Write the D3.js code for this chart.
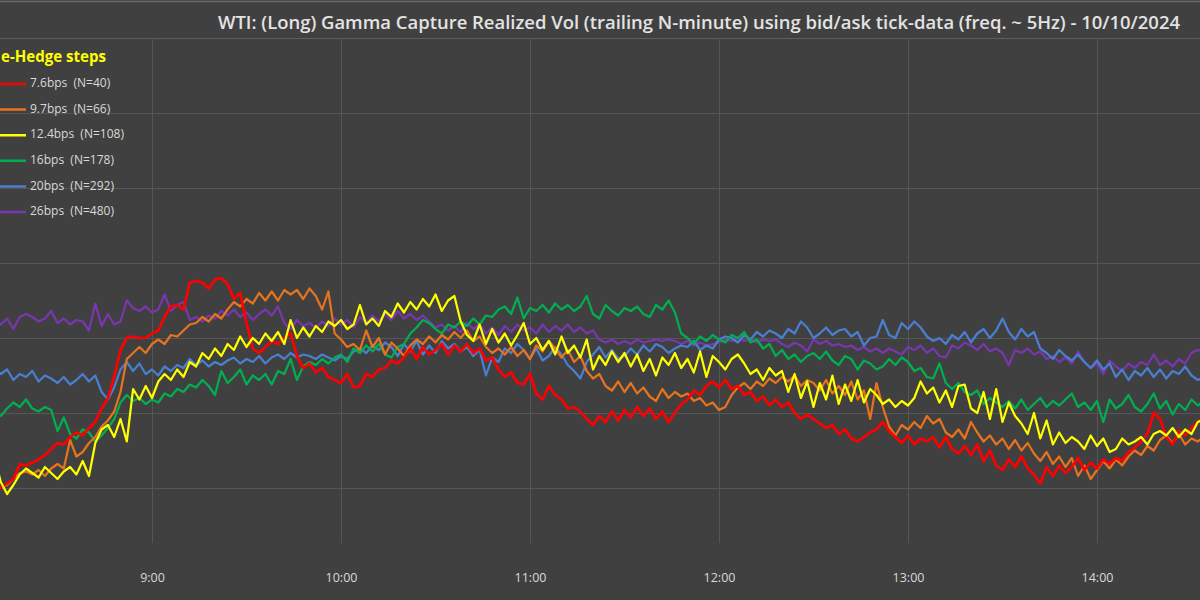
<!DOCTYPE html>
<html>
<head>
<meta charset="utf-8">
<script src="https://cdn.jsdelivr.net/npm/d3@7"></script>
<style>
  html, body { margin: 0; padding: 0; background: #404040; }
  svg { display: block; }
  text { font-family: "Open Sans", "Noto Sans", sans-serif; }
</style>
</head>
<body>
<svg id="chart" width="1200" height="600"></svg>
<script>
//sampling grid: one point every 2 minutes starting 08:10
const startTime = new Date(2024, 9, 10, 8, 10);
const stepMinutes = 2;

const tickLabels = ["9:00", "10:00", "11:00", "12:00", "13:00", "14:00"];

const seriesNames = ["7.6bps  (N=40)", "9.7bps  (N=66)", "12.4bps  (N=108)", "16bps  (N=178)", "20bps  (N=292)", "26bps  (N=480)"];

//realized vol per series
const red = [
  5.1, 5.0, 5.3, 5.6, 6.6, 6.5, 6.7, 6.9, 7.2, 7.6,
  8.0, 7.9, 8.4, 8.7, 8.5, 9.0, 9.4, 10.3, 11.0, 12.4,
  14.2, 15.0, 15.1, 15.0, 15.0, 15.3, 15.5, 16.4, 17.1, 17.2,
  16.9, 18.7, 18.8, 18.7, 18.3, 18.9, 19.0, 18.6, 17.6, 18.0,
  16.0, 14.3, 14.0, 14.4, 14.8, 14.6, 15.0, 15.3, 13.8, 13.0,
  13.3, 12.7, 13.0, 12.4, 12.2, 12.0, 12.6, 11.7, 11.8, 12.6,
  12.4, 12.9, 13.0, 13.5, 13.3, 13.7, 14.3, 13.6, 14.4, 13.9,
  14.2, 14.6, 13.9, 14.5, 14.1, 14.6, 14.0, 14.3, 13.5, 13.7,
  12.9, 12.4, 12.7, 12.0, 11.9, 12.6, 11.3, 10.9, 11.8, 11.2,
  10.9, 10.3, 10.4, 10.1, 9.6, 9.2, 9.8, 9.4, 10.1, 9.5,
  10.2, 9.7, 10.4, 9.8, 10.3, 9.6, 10.1, 9.4, 10.0, 10.6,
  10.9, 11.5, 11.2, 11.8, 12.1, 11.7, 12.2, 11.6, 11.8, 11.2,
  11.4, 10.8, 11.1, 10.5, 10.9, 10.4, 10.7, 10.0, 9.6, 9.9,
  9.6, 9.3, 9.0, 9.2, 8.6, 8.9, 8.3, 8.1, 8.4, 8.7,
  8.9, 9.4, 8.8, 8.4, 8.0, 8.5, 7.9, 8.3, 8.1, 8.4,
  7.7, 8.4, 7.6, 7.3, 7.8, 7.2, 7.9, 6.8, 7.5, 6.5,
  6.2, 6.9, 6.4, 7.1, 6.3, 5.9, 5.3, 6.4, 5.8, 6.5,
  6.0, 6.4, 7.0, 6.2, 6.7, 6.3, 6.9, 6.6, 7.0, 6.8,
  7.4, 7.7, 8.1, 8.6, 10.0, 9.6, 8.4, 7.9, 8.8, 8.5,
  9.0, 9.4, 9.6
];
const orange = [
  5.1, 5.0, 5.2, 5.6, 6.0, 6.1, 5.9, 6.2, 5.8, 6.3,
  6.6, 6.3, 8.2, 7.1, 7.4, 8.0, 8.4, 9.1, 9.5, 10.1,
  11.4, 13.6, 14.0, 14.4, 14.0, 14.6, 14.9, 14.6, 15.2, 15.1,
  15.5, 15.9, 16.0, 16.4, 16.1, 16.6, 16.3, 16.9, 17.4, 17.1,
  17.6, 17.3, 18.0, 17.5, 18.1, 17.5, 18.2, 17.9, 18.2, 17.6,
  18.3, 17.8, 16.9, 18.1, 15.3, 14.9, 14.4, 14.6, 14.2, 15.5,
  14.4, 15.0, 13.9, 14.7, 14.3, 13.8, 14.5, 14.9, 14.6, 15.1,
  14.7, 15.2, 14.9, 15.4, 15.0, 15.5, 14.8, 15.1, 14.4, 14.0,
  14.3, 13.9, 14.4, 13.8, 14.2, 13.6, 14.5, 14.1, 14.8, 14.3,
  13.7, 14.2, 13.4, 13.8, 12.8, 12.3, 12.6, 11.8, 11.5, 12.1,
  11.4, 12.0, 11.3, 11.7, 11.1, 10.8, 11.6, 11.0, 11.4, 11.1,
  11.3, 10.8, 11.0, 10.5, 10.7, 10.2, 10.4, 11.2, 11.7, 12.0,
  11.6, 12.1, 11.8, 12.3, 12.0, 12.4, 12.1, 12.5, 11.8, 12.2,
  12.0, 11.5, 12.2, 11.3, 11.8, 11.2, 12.1, 10.9, 11.5, 9.6,
  12.0, 10.4, 9.1, 8.5, 9.2, 8.9, 9.4, 9.0, 9.8, 9.3,
  9.6, 8.7, 8.4, 8.9, 8.3, 9.4, 8.7, 8.1, 8.5, 7.9,
  8.3, 7.6, 8.2, 7.5, 8.0, 7.3, 6.8, 7.4, 6.6, 7.1,
  6.4, 7.0, 5.8, 6.5, 5.6, 6.2, 6.8, 6.3, 6.9, 6.5,
  7.1, 7.5, 7.2, 7.8, 7.5, 8.2, 8.5, 8.0, 8.6, 7.9,
  8.3, 8.1, 8.4
];
const yellow = [
  7.0, 5.4, 4.6, 5.2, 5.9, 6.3, 6.0, 5.7, 6.4, 6.0,
  5.6, 6.1, 6.4, 5.9, 6.8, 5.8, 8.0, 8.9, 9.2, 8.4,
  9.6, 8.1, 11.6, 10.9, 11.8, 11.0, 12.1, 12.6, 12.2, 12.9,
  12.4, 13.4, 13.1, 14.0, 13.6, 14.3, 13.8, 14.6, 14.2, 15.1,
  14.4, 15.0, 14.6, 15.3, 14.8, 15.4, 14.6, 16.2, 15.0, 15.7,
  15.1, 15.8, 15.4, 16.1, 15.8, 16.2, 15.6, 15.9, 17.2, 15.9,
  16.3, 15.8, 16.8, 16.4, 17.3, 16.7, 17.4, 16.9, 17.6, 17.1,
  17.9, 16.8, 17.5, 17.8, 16.1, 15.2, 14.8, 15.9, 14.6, 15.6,
  14.7, 15.3, 14.5, 15.2, 16.0, 14.6, 15.0, 14.2, 14.8, 13.9,
  15.1, 14.0, 14.5, 13.7, 14.9, 12.9, 13.8, 13.2, 14.1, 13.4,
  14.0, 13.1, 13.9, 12.8, 13.6, 12.5, 13.7, 13.2, 14.0, 13.0,
  13.6, 12.7, 14.1, 12.4, 13.8, 13.4, 12.9, 13.6, 13.9, 13.3,
  12.6, 12.9, 12.2, 13.0, 12.5, 12.8, 11.4, 12.6, 11.0, 12.1,
  10.4, 12.0, 10.9, 12.5, 10.6, 11.9, 10.8, 12.2, 10.7, 11.6,
  11.2, 10.6, 10.9, 10.4, 10.8, 10.5, 11.0, 12.1, 11.3, 11.7,
  10.7, 11.5, 10.4, 11.8, 11.9, 10.3, 10.0, 11.4, 9.6, 11.6,
  9.4, 10.7, 9.8, 9.3, 8.6, 10.0, 8.3, 9.5, 7.9, 8.7,
  8.0, 8.4, 8.1, 7.6, 8.5, 7.8, 8.3, 7.4, 7.6, 8.3,
  7.9, 8.1, 8.4, 7.9, 8.6, 8.8, 8.5, 9.0, 8.4, 8.9,
  8.6, 9.4, 9.6
];
const green = [
  10.0, 9.8, 10.3, 10.7, 10.4, 10.9, 10.3, 10.1, 10.4, 10.2,
  8.8, 9.7, 8.6, 8.3, 8.9, 8.7, 8.1, 8.5, 9.0, 9.6,
  10.7, 11.2, 10.8, 11.0, 10.6, 10.9, 10.7, 11.3, 11.1, 11.6,
  11.4, 11.9, 11.7, 12.2, 11.8, 11.2, 12.8, 12.0, 12.4, 12.9,
  11.9, 12.5, 12.2, 12.6, 11.9, 12.8, 12.6, 13.6, 12.2, 13.1,
  13.4, 13.2, 13.6, 13.3, 13.7, 13.9, 13.4, 14.3, 14.0, 14.5,
  14.1, 14.6, 13.9, 13.7, 14.4, 14.6, 15.3, 15.7, 16.2, 16.0,
  15.6, 15.3, 15.9, 15.7, 16.1, 15.8, 16.3, 15.9, 16.5, 16.4,
  16.9, 17.1, 16.6, 17.7, 16.3, 17.0, 16.8, 17.2, 16.7, 17.3,
  16.9, 17.2, 16.8, 17.1, 17.8, 16.6, 16.3, 17.2, 16.8, 16.5,
  17.0, 16.8, 17.1, 16.6, 16.4, 17.2, 16.9, 17.5, 16.7, 15.3,
  15.0, 14.6, 15.1, 14.8, 15.2, 14.9, 14.7, 15.2, 15.0, 15.4,
  14.7, 14.9, 14.3, 14.6, 13.8, 14.2, 13.6, 13.9, 13.4, 13.8,
  14.0, 13.6, 14.1, 13.5, 13.2, 13.8, 13.6, 12.9, 13.5, 13.3,
  12.9, 13.1, 13.6, 13.2, 13.7, 13.4, 12.8, 13.0, 12.4, 12.3,
  13.3, 12.0, 11.6, 12.0, 11.4, 11.2, 11.5, 10.6, 11.0, 10.7,
  10.4, 10.8, 10.3, 10.9, 10.2, 10.6, 11.0, 10.4, 10.8, 10.5,
  10.9, 11.3, 10.4, 10.7, 10.2, 10.8, 9.4, 10.9, 10.3, 10.6,
  11.2, 10.4, 10.1, 10.6, 11.3, 10.3, 10.8, 9.9, 10.6, 10.2,
  10.9, 10.5, 10.8
];
const blue = [
  13.0, 12.6, 12.9, 12.2, 12.6, 12.4, 12.8, 12.1, 12.5, 12.3,
  12.0, 12.4, 11.9, 12.2, 12.6, 12.1, 12.5, 11.4, 10.9, 11.7,
  12.9, 13.4, 12.8, 13.3, 12.6, 12.9, 12.5, 13.1, 12.8, 13.2,
  13.0, 13.6, 13.2, 13.5, 13.1, 13.4, 13.2, 13.5, 13.7, 13.3,
  13.6, 13.4, 13.8, 13.3, 13.7, 13.9, 13.6, 14.0, 13.7, 13.9,
  13.8, 13.6, 13.9, 13.7, 13.5, 13.8, 13.6, 14.1, 14.3, 14.0,
  14.5, 14.2, 14.7, 14.4, 13.8, 14.6, 14.1, 14.8, 13.9, 14.5,
  14.0, 14.8, 14.3, 14.6, 14.1, 14.4, 13.8, 14.2, 12.5, 13.7,
  13.4, 14.3, 14.0, 14.6, 14.2, 13.6, 14.3, 13.5, 13.8, 14.4,
  13.9, 13.2, 12.8, 12.3, 13.4, 13.9, 14.4, 13.7, 14.2, 13.6,
  13.8, 14.3, 13.9, 14.5, 14.1, 14.6, 14.4, 14.0, 14.3, 14.5,
  14.4, 14.8, 14.2, 14.5, 14.3, 14.9, 15.1, 15.0, 14.7, 15.2,
  14.9, 15.4, 15.1, 15.5, 15.3, 15.0, 15.6, 15.3, 16.1, 15.7,
  15.0, 15.3, 15.7, 15.2, 15.5, 15.6, 15.1, 15.4, 14.5, 15.0,
  15.1, 16.2, 15.2, 15.0, 16.0, 15.6, 16.1, 15.7, 15.1, 14.8,
  15.0, 14.6, 15.2, 14.9, 15.4, 14.7, 15.3, 15.6, 15.0, 15.5,
  16.3, 15.4, 14.9, 15.6, 15.1, 15.4, 14.3, 14.0, 13.6, 14.2,
  13.8, 13.5, 13.9, 13.4, 13.0, 13.5, 12.9, 13.3, 12.4, 12.9,
  12.2, 12.8, 12.5, 13.0, 12.4, 12.9, 12.3, 12.8, 12.6, 13.1,
  12.5, 12.2, 12.4
];
const purple = [
  16.2, 15.9, 16.3, 15.6, 16.4, 16.6, 16.4, 16.1, 16.3, 16.8,
  16.0, 16.3, 15.9, 16.2, 16.1, 15.5, 17.3, 15.8, 16.6, 15.9,
  16.1, 17.5, 17.0, 16.8, 17.1, 16.7, 16.9, 17.9, 16.8, 17.2,
  17.4, 16.2, 16.4, 16.1, 16.5, 16.3, 16.8, 16.5, 16.9, 16.4,
  16.7, 16.2, 16.6, 16.9, 16.5, 17.1, 16.0, 15.6, 16.2, 15.8,
  16.0, 15.7, 16.1, 15.8, 16.3, 15.9, 16.2, 15.7, 16.4, 16.0,
  16.5, 16.1, 16.6, 16.2, 16.8, 16.3, 16.6, 16.2, 16.5, 16.1,
  15.7, 15.9, 15.5, 15.8, 15.4, 16.0, 15.6, 15.9, 15.3, 15.7,
  15.2, 15.8, 15.4, 15.9, 15.5, 15.7, 15.3, 15.9, 15.4, 15.8,
  15.5, 15.9, 15.4, 15.7, 15.3, 15.5, 14.9, 14.7, 14.9, 14.6,
  14.8, 14.6, 14.9, 14.7, 14.8, 14.9, 14.8, 14.9, 14.8, 14.6,
  14.8, 14.5, 14.7, 14.5, 14.6, 14.7, 14.9, 14.8, 15.0, 14.8,
  14.9, 14.7, 14.9, 14.8, 14.9, 14.6, 14.4, 14.7, 14.5, 14.1,
  14.9, 14.6, 14.8, 14.5, 14.6, 14.4, 14.5, 14.2, 14.4, 14.1,
  14.3, 14.0, 14.3, 14.1, 13.9, 14.4, 14.2, 14.5, 14.0, 14.3,
  13.8, 13.7, 14.5, 14.3, 14.7, 14.5, 14.2, 14.6, 14.1, 14.3,
  14.0, 13.2, 14.2, 14.0, 14.3, 13.9, 14.1, 13.6, 13.8, 13.4,
  13.7, 13.3, 14.1, 13.4, 13.0, 13.3, 12.6, 13.5, 13.1, 12.8,
  13.3, 13.0, 13.4, 13.2, 13.9, 13.2, 13.5, 13.1, 13.6, 13.3,
  14.0, 14.2, 14.1
];

const lineColors = ["#ff0000", "#e8731e", "#ffff00", "#00b050", "#4a7fd0", "#7a36b0"];
const lineWidths = [2.7, 2.2, 2.2, 2.2, 2.2, 2.2];

let svg = d3.select("#chart"),
	width = +svg.attr("width"),
	height = +svg.attr("height"),
	plotTop = 38,
	plotBottom = 543;

let colorBg = "#404040",
	colorGrid = "#565656",
	colorText = "#d9d9d9";

let seriesValues = [red, orange, yellow, green, blue, purple];

let times = red.map(function(d, i) { return d3.timeMinute.offset(startTime, i * stepMinutes); });

let series = seriesNames.map(function(name, k) {
	return { name: name, color: lineColors[k], width: lineWidths[k],
		points: seriesValues[k].map(function(v, i) { return { t: times[i], v: v }; }) };
});

//scales: hours are ~189px apart, the left part of the chart is cut off
let parseHour = d3.timeParse("%Y-%m-%d %H:%M");
let tickTimes = tickLabels.map(function(l) { return parseHour("2024-10-10 " + l); });

let x = d3.scaleTime()
		.domain([tickTimes[0], tickTimes[tickTimes.length - 1]])
		.range([152, 1097]),
	y = d3.scaleLinear().domain([0, 35]).range([563, 38]);

svg.append("rect").attr("width", width).attr("height", height).attr("fill", colorBg);

//top border
svg.append("line")
	.attr("x1", 0).attr("x2", width).attr("y1", 1.5).attr("y2", 1.5)
	.attr("stroke", "#6b6b6b").attr("stroke-width", 1.5);

//horizontal gridlines
let grid = svg.append("g").attr("class", "grid");
grid.selectAll("line.h")
	.data([5, 10, 15, 20, 25, 30, 35])
	.enter().append("line")
	.attr("class", "h")
	.attr("x1", 0).attr("x2", width)
	.attr("y1", function(d) { return Math.round(y(d)) + 0.5; })
	.attr("y2", function(d) { return Math.round(y(d)) + 0.5; })
	.attr("stroke", function(d) { return d === 35 ? "#5e5e5e" : colorGrid; })
	.attr("stroke-width", 1);

//vertical gridlines and hour labels
let xAxis = svg.append("g")
	.attr("class", "x-axis")
	.attr("transform", "translate(0," + plotBottom + ")")
	.call(d3.axisBottom(x)
		.tickValues(tickTimes)
		.tickSize(-(plotBottom - plotTop))
		.tickPadding(30)
		.tickFormat(function(d, i) { return tickLabels[i]; }));

xAxis.select(".domain").remove();
xAxis.selectAll(".tick line").attr("stroke", colorGrid).attr("stroke-width", 1);
xAxis.selectAll(".tick text")
	.attr("fill", colorText)
	.style("font-size", "12.5px")
	.style("font-family", "'Open Sans', sans-serif");

//lines
let line = d3.line()
	.x(function(d) { return x(d.t); })
	.y(function(d) { return y(d.v); });

let drawOrder = [5, 4, 3, 1, 0, 2];
svg.append("g").attr("class", "lines")
	.selectAll("path")
	.data(drawOrder.map(function(k) { return series[k]; }))
	.enter().append("path")
	.attr("d", function(d) { return line(d.points); })
	.attr("fill", "none")
	.attr("stroke", function(d) { return d.color; })
	.attr("stroke-width", function(d) { return d.width; })
	.attr("stroke-linejoin", "round");

//legend (its left part is cut off in the original, only this much shows)
let legend = svg.append("g").attr("class", "legend");

legend.append("text")
	.attr("x", 1)
	.attr("y", 58)
	.attr("dominant-baseline", "middle")
	.attr("textLength", 105)
	.attr("lengthAdjust", "spacingAndGlyphs")
	.attr("fill", "#ffff00")
	.style("font-size", "16px")
	.style("font-weight", "bold")
	.text("e-Hedge steps");

let legendY = d3.scalePoint().domain(seriesNames).range([84, 212]);

let items = legend.selectAll("g.item")
	.data(series)
	.enter().append("g")
	.attr("class", "item")
	.attr("transform", function(d) { return "translate(0," + legendY(d.name) + ")"; });

items.append("line")
	.attr("x1", -10).attr("x2", 26)
	.attr("stroke", function(d) { return d.color; })
	.attr("stroke-width", 2.5);

items.append("text")
	.attr("x", 30)
	.attr("dominant-baseline", "middle")
	.attr("fill", colorText)
	.style("font-size", "12px")
	.style("white-space", "pre")
	.text(function(d) { return d.name; });

//title
svg.append("text")
	.attr("x", 218)
	.attr("y", 24)
	.attr("dominant-baseline", "middle")
	.attr("textLength", 962)
	.attr("lengthAdjust", "spacingAndGlyphs")
	.attr("fill", "#e3e3e3")
	.style("font-size", "18px")
	.style("font-weight", 600)
	.text("WTI: (Long) Gamma Capture Realized Vol (trailing N-minute) using bid/ask tick-data (freq. ~ 5Hz) - 10/10/2024");
</script>
</body>
</html>
